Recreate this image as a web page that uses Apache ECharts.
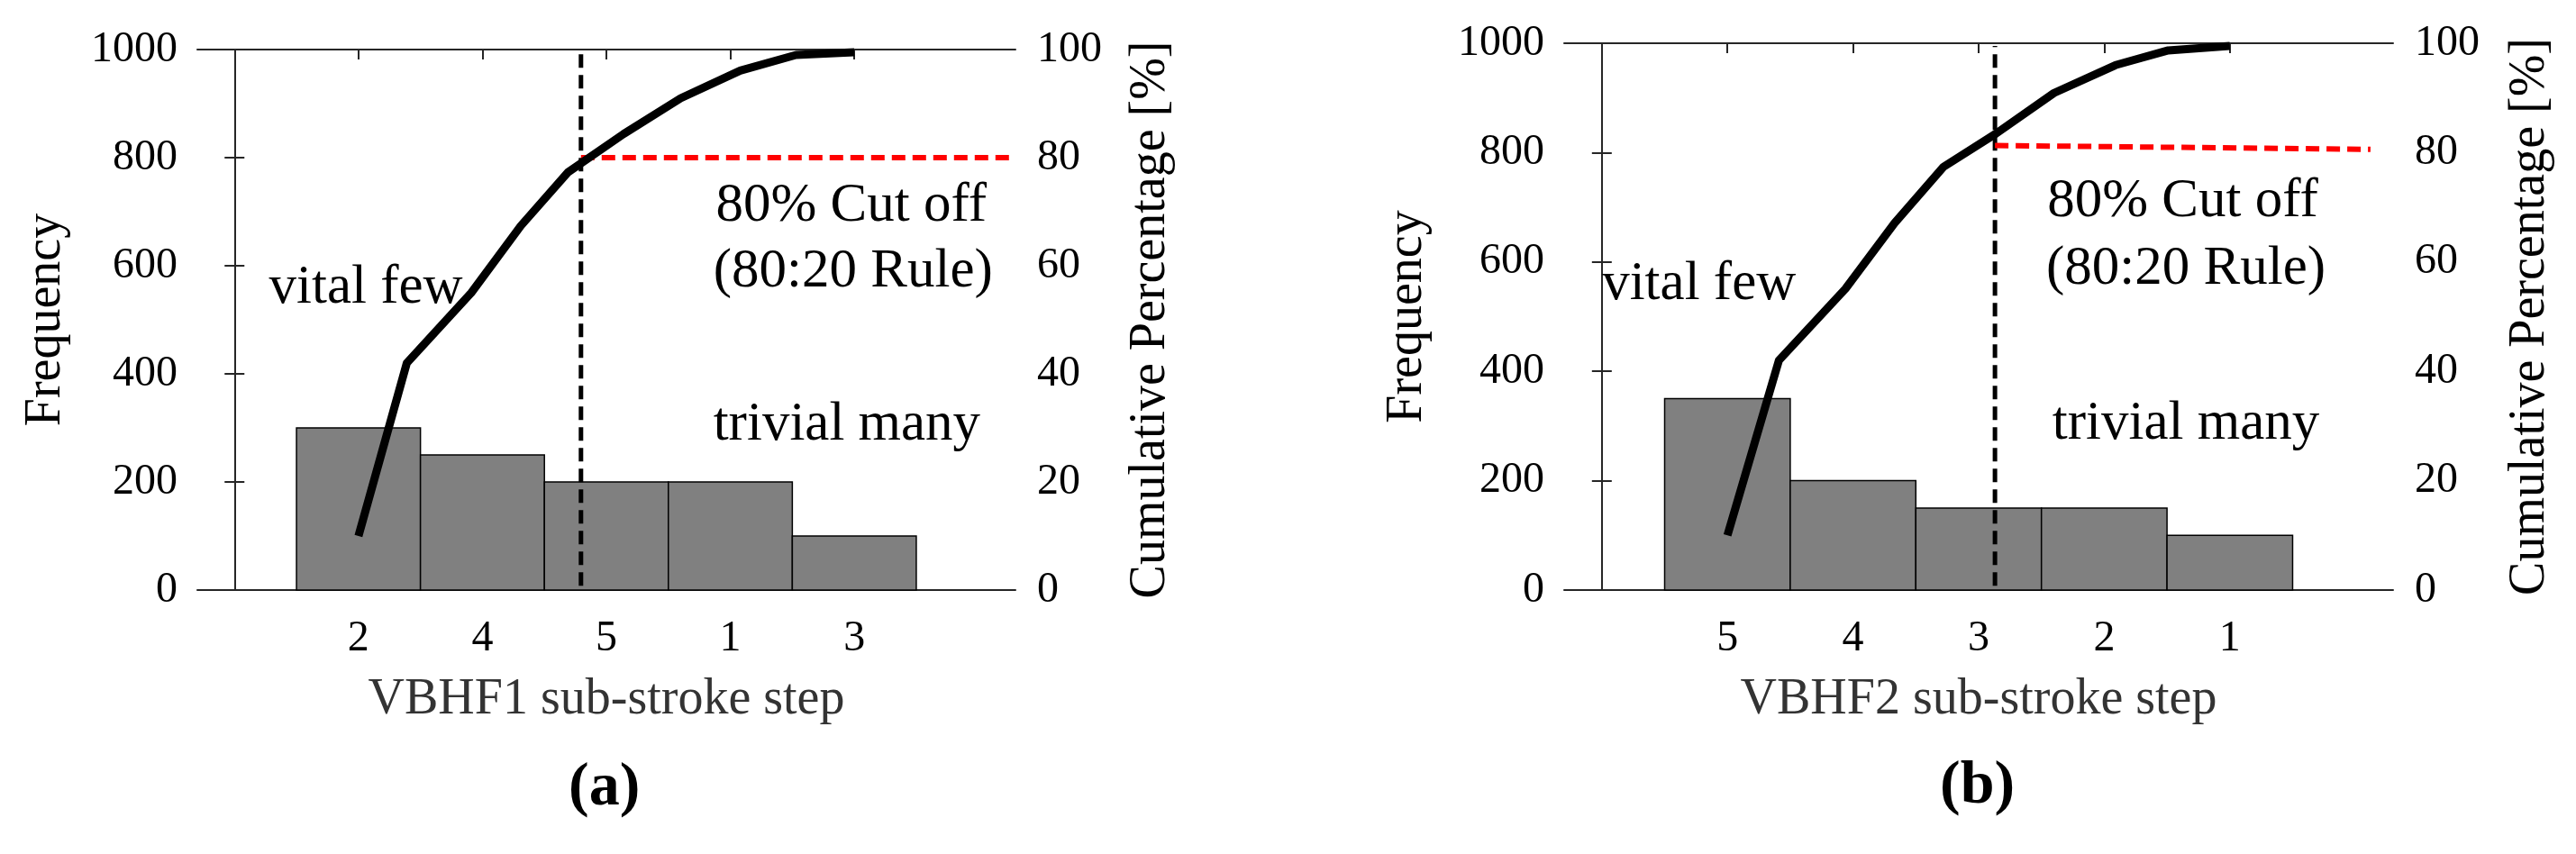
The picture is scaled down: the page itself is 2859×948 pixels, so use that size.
<!DOCTYPE html>
<html>
<head>
<meta charset="utf-8">
<script src="https://cdn.jsdelivr.net/npm/echarts@6/dist/echarts.min.js"></script>
<style>
html,body{margin:0;padding:0;background:#fff;}
#chart{width:2859px;height:948px;}
</style>
</head>
<body>
<div id="chart"></div>
<script>
// ---- Data ----
const categoriesA = ['2', '4', '5', '1', '3'];
const frequencyA = [300, 250, 200, 200, 100];
const cumulativeXA = [1.0, 1.39, 1.91, 2.31, 2.69, 3.14, 3.60, 4.08, 4.53, 5.0];
const cumulativePctA = [10, 42, 55, 67.4, 77.3, 84.4, 91, 96.1, 99, 99.5];
const cutoffXA = 2.795;
const cutoffPctA = [80, 80];

const categoriesB = ['5', '4', '3', '2', '1'];
const frequencyB = [350, 200, 150, 150, 100];
const cumulativeXB = [1.0, 1.41, 1.94, 2.33, 2.72, 3.14, 3.60, 4.09, 4.51, 5.0];
const cumulativePctB = [10, 42, 55.1, 67.1, 77.4, 83.5, 90.9, 96, 98.7, 99.5];
const cutoffXB = 3.13;
const cutoffPctB = [81.3, 80.6];
const cutoffEndXB = 6.12;

const freqTicks = [0, 200, 400, 600, 800, 1000];
const pctTicks = [0, 20, 40, 60, 80, 100];
const xTitleA = 'VBHF1 sub-stroke step';
const xTitleB = 'VBHF2 sub-stroke step';
const yTitleLeft = 'Frequency';
const yTitleRight = 'Cumulative Percentage [%]';
const textsA = [['vital few', 1.06, 55.8], ['80% Cut off', 4.975, 71.0], ['(80:20 Rule)', 4.99, 58.8], ['trivial many', 4.94, 30.5]];
const textsB = [['vital few', 0.774, 55.8], ['80% Cut off', 4.625, 71.0], ['(80:20 Rule)', 4.65, 58.6], ['trivial many', 4.65, 30.3]];
const panelLabels = ['(a)', '(b)'];

// ---- Styling ----
const FONT = "'Liberation Serif','Times New Roman',serif";
const AX = '#262626';
const XMIN = -0.3, XMAX = 6.3;
const catPos = [1, 2, 3, 4, 5];

function xAxes(gi, cats, title) {
  return [
    {
      type: 'value', gridIndex: gi, position: 'bottom', min: XMIN, max: XMAX,
      axisLine: { show: true, onZero: false, lineStyle: { color: AX, width: 2 } },
      axisTick: { show: true, inside: true, length: 11, customValues: catPos, lineStyle: { color: AX, width: 2 } },
      axisLabel: { show: true, customValues: catPos, margin: 30, fontFamily: FONT, fontSize: 48, color: '#000',
        formatter: v => cats[Math.round(v) - 1] || '' },
      splitLine: { show: false },
      name: title, nameLocation: 'middle', nameGap: 94,
      nameTextStyle: { fontFamily: FONT, fontSize: 56, color: '#333' }
    },
    {
      type: 'value', gridIndex: gi, position: 'top', min: XMIN, max: XMAX,
      axisLine: { show: true, onZero: false, lineStyle: { color: AX, width: 2 } },
      axisTick: { show: true, inside: true, length: 11, customValues: catPos, lineStyle: { color: AX, width: 2 } },
      axisLabel: { show: false },
      splitLine: { show: false }
    }
  ];
}
function yAxes(gi, gapL, gapR) {
  return [
    {
      type: 'value', gridIndex: gi, position: 'left', min: 0, max: 1000, interval: 200,
      axisLine: { show: true, lineStyle: { color: AX, width: 2 } },
      axisTick: { show: true, inside: true, length: 11, lineStyle: { color: AX, width: 2 } },
      axisLabel: { margin: 22, fontFamily: FONT, fontSize: 48, color: '#000', formatter: v => String(v) },
      splitLine: { show: false },
      name: yTitleLeft, nameLocation: 'middle', nameRotate: 90, nameGap: gapL,
      nameTextStyle: { fontFamily: FONT, fontSize: 56, color: '#000' }
    },
    {
      type: 'value', gridIndex: gi, position: 'right', min: 0, max: 100, interval: 20,
      axisLine: { show: true, lineStyle: { color: AX, width: 2 } },
      axisTick: { show: true, inside: true, length: 11, lineStyle: { color: AX, width: 2 } },
      axisLabel: { margin: 24, fontFamily: FONT, fontSize: 48, color: '#000', formatter: v => String(v) },
      splitLine: { show: false },
      name: yTitleRight, nameLocation: 'middle', nameRotate: 90, nameGap: gapR,
      nameTextStyle: { fontFamily: FONT, fontSize: 56, color: '#000' }
    }
  ];
}

function barSeries(xi, yi, values) {
  return {
    type: 'custom', xAxisIndex: xi, yAxisIndex: yi, z: 1, silent: true,
    data: values.map((v, i) => [i + 1, v]),
    renderItem: function (params, api) {
      const x = api.value(0), v = api.value(1);
      const p0 = api.coord([x - 0.5, v]);
      const p1 = api.coord([x + 0.5, 0]);
      return { type: 'rect', shape: { x: p0[0], y: p0[1], width: p1[0] - p0[0], height: p1[1] - p0[1] },
        style: { fill: '#808080', stroke: '#000', lineWidth: 1.5 } };
    }
  };
}
function lineSeries(xi, yi, xs, ys) {
  return {
    type: 'line', xAxisIndex: xi, yAxisIndex: yi, z: 4, silent: true, symbol: 'none',
    data: xs.map((x, i) => [x, ys[i]]),
    lineStyle: { color: '#000', width: 9, join: 'round' }
  };
}
function vDash(xi, yi, x) {
  return {
    type: 'line', xAxisIndex: xi, yAxisIndex: yi, z: 3, silent: true, symbol: 'none',
    data: [[x, 0.8], [x, 99.5]],
    lineStyle: { color: '#000', width: 5, type: [15, 8] }
  };
}
function redDash(xi, yi, x0, x1, ys) {
  return {
    type: 'line', xAxisIndex: xi, yAxisIndex: yi, z: 3, silent: true, symbol: 'none',
    data: [[x0, ys[0]], [x1, ys[1]]],
    lineStyle: { color: '#ff0000', width: 6, type: [15, 8] }
  };
}
function textSeries(xi, yi, texts) {
  return {
    type: 'custom', xAxisIndex: xi, yAxisIndex: yi, z: 5, silent: true,
    data: texts.map(t => [t[1], t[2], t[0]]),
    renderItem: function (params, api) {
      const p = api.coord([api.value(0), api.value(1)]);
      return { type: 'text', x: p[0], y: p[1],
        style: { text: texts[params.dataIndex][0], fontFamily: FONT, fontSize: 61, fill: '#000',
          align: 'center', verticalAlign: 'middle' } };
    }
  };
}

const option = {
  backgroundColor: '#fff',
  animation: false,
  grid: [
    { left: 219, top: 55, width: 908, height: 600 },
    { left: 1736, top: 48, width: 920, height: 607 }
  ],
  xAxis: [...xAxes(0, categoriesA, xTitleA), ...xAxes(1, categoriesB, xTitleB)],
  yAxis: [...yAxes(0, 140, 122), ...yAxes(1, 146, 124)],
  series: [
    barSeries(0, 0, frequencyA),
    vDash(0, 1, cutoffXA),
    redDash(0, 1, cutoffXA, XMAX, cutoffPctA),
    lineSeries(0, 1, cumulativeXA, cumulativePctA),
    textSeries(0, 1, textsA),
    barSeries(2, 2, frequencyB),
    vDash(2, 3, cutoffXB),
    redDash(2, 3, cutoffXB, cutoffEndXB, cutoffPctB),
    lineSeries(2, 3, cumulativeXB, cumulativePctB),
    textSeries(2, 3, textsB)
  ],
  graphic: [
    { type: 'text', left: 671 - 40, top: 881 - 40, style: { text: panelLabels[0], fontFamily: FONT, fontWeight: 'bold', fontSize: 68, fill: '#000', width: 80, align: 'center' } },
    { type: 'text', left: 2193 - 40, top: 879 - 40, style: { text: panelLabels[1], fontFamily: FONT, fontWeight: 'bold', fontSize: 68, fill: '#000', width: 80, align: 'center' } }
  ]
};

const chart = echarts.init(document.getElementById('chart'), null, { renderer: 'canvas' });
chart.setOption(option);
</script>
</body>
</html>
